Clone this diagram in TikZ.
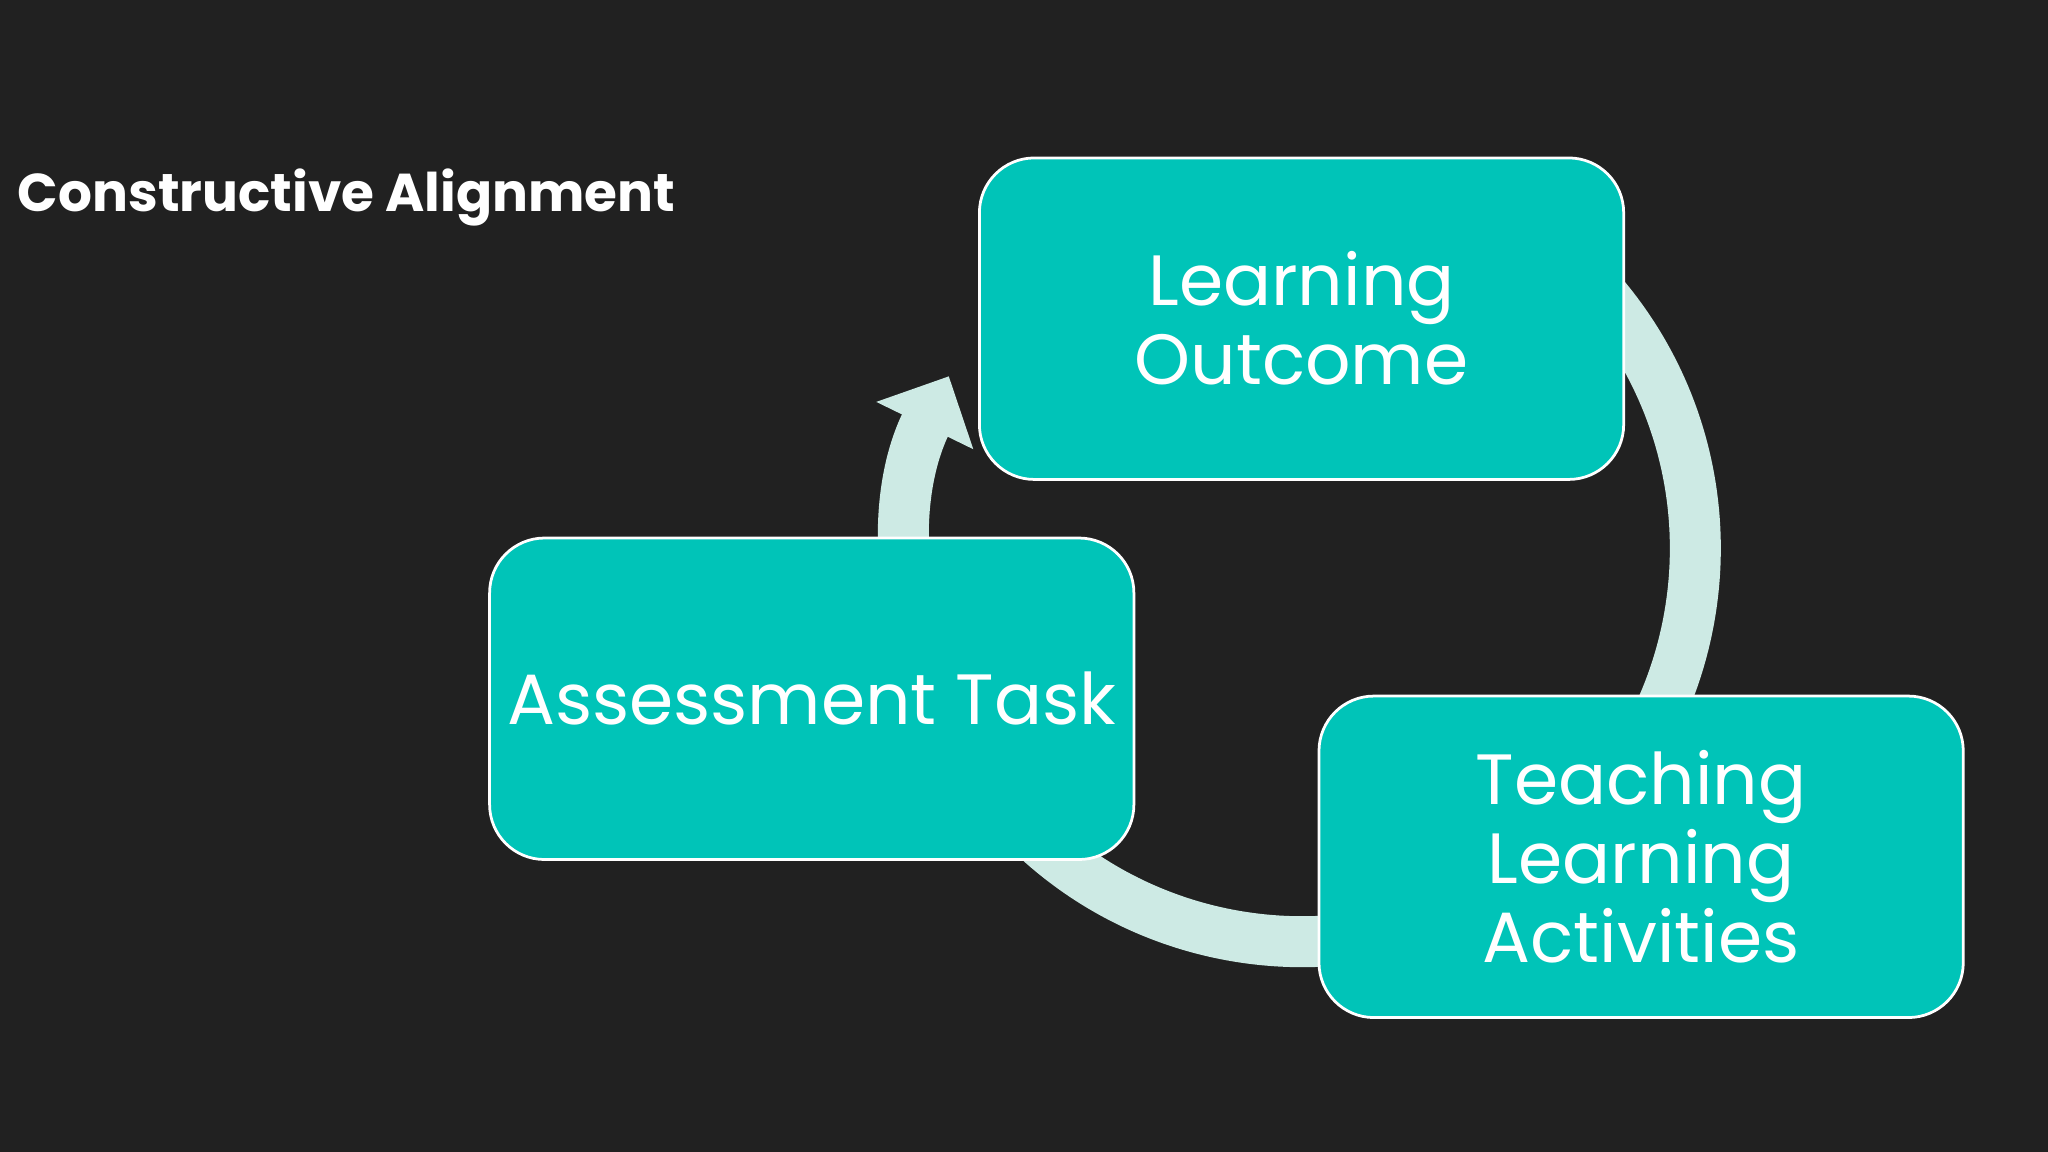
\documentclass[tikz,border=0pt]{standalone}
\usepackage{fontspec}
\setmainfont{Poppins}
\usetikzlibrary{arrows.meta}
\definecolor{bg}{HTML}{212121}
\definecolor{boxc}{HTML}{00C4B8}
\definecolor{ringc}{HTML}{CDEAE4}
\tikzset{
  boxn/.style={draw=white, line width=0.6pt, fill=boxc, rounded corners=0.42cm, minimum width=4.93cm, minimum height=2.46cm, text=white, align=center, font=\fontsize{15.5}{17.2}\selectfont},
}
\begin{document}
\begin{tikzpicture}[x=0.01cm,y=-0.01cm]
\fill[bg] (0,0) rectangle (1568,882);
\useasboundingbox (0,0) rectangle (1568,882);
\node[anchor=west, inner sep=0pt, text=white, font=\fontsize{11.6}{12}\selectfont\bfseries] (title) at (13,151) {Constructive Alignment};
\coordinate (c) at (997,420);
\draw[ringc, line width=0.39cm, -{Triangle[length=0.42cm,width=0.8cm]}] ([shift={(-40:301)}]c) arc[start angle=-40, end angle=206, radius=301];
\node[boxn] (lo) at (996.5,244) {Learning\\Outcome};
\node[boxn] (at) at (621.5,535) {Assessment Task};
\node[boxn] (tla) at (1256.5,656) {Teaching\\Learning\\Activities};
\end{tikzpicture}
\end{document}
